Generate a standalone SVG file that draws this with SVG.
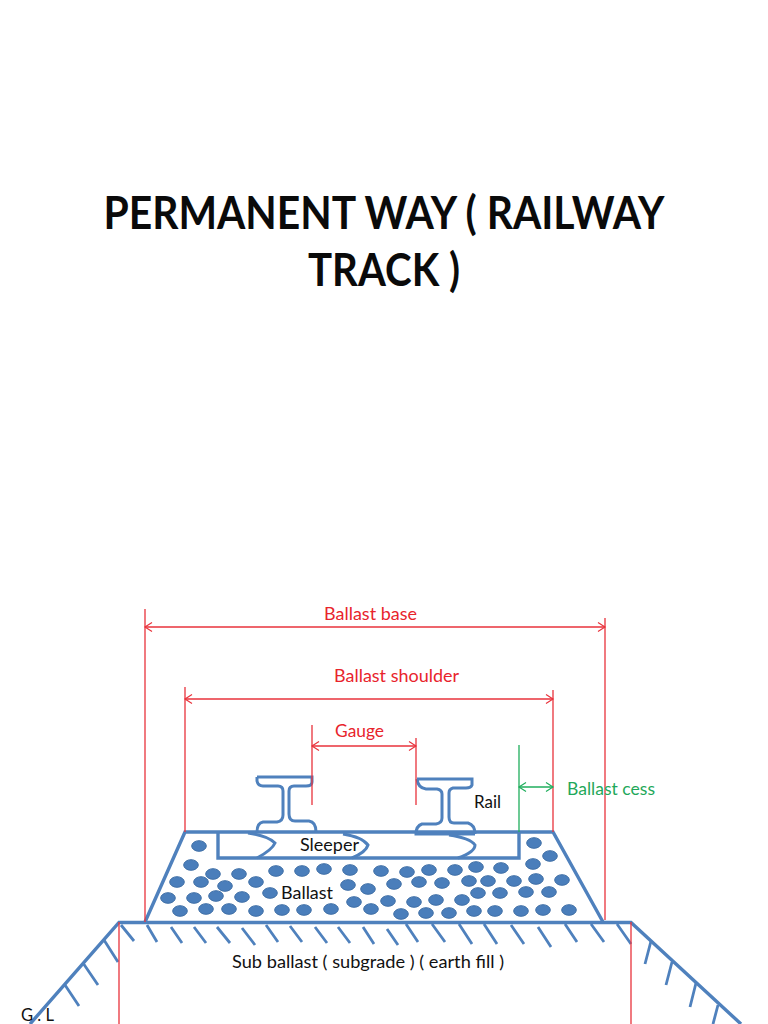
<svg xmlns="http://www.w3.org/2000/svg" width="768" height="1024" viewBox="0 0 768 1024">
<style>
text{font-family:"Lato","Carlito","Open Sans",sans-serif}
.t{font-size:45px;font-weight:700;fill:#0a0a0a;text-anchor:middle}
.l{font-size:17px;fill:#111}
.r{font-size:17px;fill:#e8242c}
.g{font-size:17px;fill:#1fa85a}
.b{fill:none;stroke:#4f81bd;stroke-width:3.4}
.h{fill:none;stroke:#4f81bd;stroke-width:2.8}
.rl{fill:none;stroke:#4f81bd;stroke-width:3}
.red{stroke:#e9333c;stroke-width:1.3;fill:none}
.gr{stroke:#1fae5c;stroke-width:1.3;fill:none}
.a{fill:none;stroke:#e9333c;stroke-width:1.2}
.a2{fill:none;stroke:#1fae5c;stroke-width:1.2}
ellipse{fill:#4a7ebb;stroke:#3f6fa6;stroke-width:1;rx:7.300px;ry:5.300px}
</style>
<rect width="768" height="1024" fill="#ffffff"/>
<g id="title">
<text class="t" x="384" y="229" textLength="561" lengthAdjust="spacingAndGlyphs">PERMANENT WAY ( RAILWAY</text>
<text class="t" x="384" y="286" textLength="152" lengthAdjust="spacingAndGlyphs">TRACK )</text>
</g>
<g id="ground">
<path class="b" d="M30 1024L119 922.5H631L741 1024"/>
<path class="h" d="M121 925L134 941M147 925L157 942M171 927L182 943M194 927L206 943M217 927L230 943M242 928L255 945M266 925L278 942M290 926L302 942M315 927L327 943M338 927L350 943M363 927L374 944M387 929L398 945M406 924L418 942M432 924L445 942M459 924L472 944M484 924L497 944M511 925L524 944M538 927L551 947M565 924L577 942M591 924L604 942M617 924L631 944"/>
<path class="h" d="M104 940L118 962M83 963L98 985M65 985L79 1006"/>
<path class="h" d="M651 941L645 964M672 962L666 985M696 983L690 1007M718 1005L713 1024"/>
</g>
<g id="ballast">
<path class="b" d="M145 922L185 832H553L603 922"/>
<g>
<ellipse cx="199" cy="846"/><ellipse cx="191" cy="865"/><ellipse cx="213" cy="874"/><ellipse cx="239" cy="874"/><ellipse cx="177" cy="882"/><ellipse cx="201" cy="882"/><ellipse cx="225" cy="886"/><ellipse cx="256" cy="882"/><ellipse cx="276" cy="871"/><ellipse cx="302" cy="871"/><ellipse cx="324" cy="869"/><ellipse cx="350" cy="870"/><ellipse cx="348" cy="885"/><ellipse cx="368" cy="889"/><ellipse cx="270" cy="893"/><ellipse cx="168" cy="898"/><ellipse cx="194" cy="898"/><ellipse cx="216" cy="896"/><ellipse cx="242" cy="897"/><ellipse cx="180" cy="911"/><ellipse cx="206" cy="909"/><ellipse cx="229" cy="909"/><ellipse cx="256" cy="911"/><ellipse cx="282" cy="910"/><ellipse cx="304" cy="910"/><ellipse cx="331" cy="909"/><ellipse cx="354" cy="902"/><ellipse cx="371" cy="909"/>
<ellipse cx="381" cy="871"/><ellipse cx="407" cy="872"/><ellipse cx="429" cy="870"/><ellipse cx="455" cy="870"/><ellipse cx="476" cy="867"/><ellipse cx="501" cy="868"/><ellipse cx="534" cy="843"/><ellipse cx="550" cy="856"/><ellipse cx="533" cy="864"/><ellipse cx="394" cy="884"/><ellipse cx="419" cy="882"/><ellipse cx="442" cy="883"/><ellipse cx="469" cy="881"/><ellipse cx="488" cy="881"/><ellipse cx="514" cy="881"/><ellipse cx="536" cy="879"/><ellipse cx="562" cy="880"/><ellipse cx="478" cy="893"/><ellipse cx="500" cy="893"/><ellipse cx="526" cy="892"/><ellipse cx="549" cy="892"/><ellipse cx="388" cy="901"/><ellipse cx="414" cy="902"/><ellipse cx="436" cy="900"/><ellipse cx="462" cy="900"/><ellipse cx="401" cy="914"/><ellipse cx="426" cy="913"/><ellipse cx="449" cy="913"/><ellipse cx="474" cy="911"/><ellipse cx="495" cy="911"/><ellipse cx="521" cy="911"/><ellipse cx="543" cy="910"/><ellipse cx="569" cy="910"/>
</g>
</g>
<g id="sleeper">
<path class="b" d="M218 832V858H519V832"/>
<path class="rl" d="M248 833Q268 836 275 843Q272 850 257 858M343 834Q362 837 368 845Q366 852 352 858M449 835Q470 838 475 845Q475 852 458 858"/>
</g>
<g id="rail-left">
<path class="rl" d="M257 777H312V782Q312 786 306 786H294Q289 786 289 791V814Q289 821 295 821H309Q316 822 316 832M257 777V781Q258 786 263 786H278Q283 786 283 791V815Q283 821 277 822H263Q257 823 257 832"/>
</g>
<g id="rail-right">
<path class="rl" d="M417 779H472V785Q471 788 466 788H453Q449 789 449 793V817Q449 823 454 823H468Q475 825 475 834M417 779Q418 788 426 789H437Q442 790 442 794V818Q442 823 436 824H422Q416 826 416 834H475"/>
</g>
<g id="connectors">
<path class="red" d="M145 609V922M185 687V832M312 725V805M416 738V805M553 690V832M605 618V920M119 922V1024M631 922V1024"/>
<path class="gr" d="M519 745V832"/>
<path class="red" d="M145 627H605M185 699H553M312 746H416"/>
<path class="a" d="M152 622.500L145 627L152 631.500M598 622.500L605 627L598 631.500M192 694.500L185 699L192 703.500M546 694.500L553 699L546 703.500M319 741.500L312 746L319 750.500M409 741.500L416 746L409 750.500"/>
<path class="gr" d="M519 787H553"/>
<path class="a2" d="M526 782.500L519 787L526 791.500M546 782.500L553 787L546 791.500"/>
</g>
<g id="labels">
<text class="r" x="324" y="620" textLength="93" lengthAdjust="spacingAndGlyphs">Ballast base</text>
<text class="r" x="334" y="682" textLength="125" lengthAdjust="spacingAndGlyphs">Ballast shoulder</text>
<text class="r" x="335" y="737" textLength="49" lengthAdjust="spacingAndGlyphs">Gauge</text>
<text class="g" x="567" y="795" textLength="88" lengthAdjust="spacingAndGlyphs">Ballast cess</text>
<text class="l" x="474" y="808" textLength="27" lengthAdjust="spacingAndGlyphs">Rail</text>
<text class="l" x="300" y="851" textLength="59" lengthAdjust="spacingAndGlyphs">Sleeper</text>
<text class="l" x="281" y="899" textLength="52" lengthAdjust="spacingAndGlyphs">Ballast</text>
<text class="l" x="232" y="968" textLength="272" lengthAdjust="spacingAndGlyphs">Sub ballast ( subgrade ) ( earth fill )</text>
<text class="l" x="21" y="1021" textLength="33" lengthAdjust="spacingAndGlyphs">G . L</text>
</g>
</svg>
